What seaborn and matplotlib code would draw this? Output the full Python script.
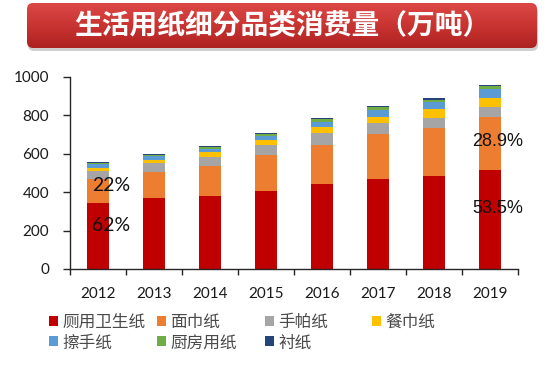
import numpy as np
import pandas as pd
import matplotlib
matplotlib.use("Agg")
import matplotlib.pyplot as plt
from matplotlib.patches import FancyBboxPatch, Patch
from matplotlib.colors import LinearSegmentedColormap
import seaborn as sns

years = ["2012", "2013", "2014", "2015", "2016", "2017", "2018", "2019"]
series_names = ["厕用卫生纸", "面巾纸", "手帕纸", "餐巾纸", "擦手纸", "厨房用纸", "衬纸"]
toilet = [346, 368, 380, 406, 442, 471, 484, 514]
facial = [125, 135, 156, 187, 206, 231, 248, 277]
handkerchief = [37, 47, 48, 52, 61, 56, 55, 52]
napkin = [19, 20, 23, 26, 28, 34, 44, 47]
hand_towel = [18, 19, 19, 24, 31, 38, 40, 49]
kitchen = [7, 5, 7, 8, 12, 12, 10, 12]
liner = [4, 4, 7, 6, 8, 9, 8, 9]
colors = ["#C00000", "#ED7D31", "#A5A5A5", "#FFC000", "#5B9BD5", "#70AD47", "#264478"]
yticks = [0, 200, 400, 600, 800, 1000]
title = "生活用纸细分品类消费量（万吨）"
annotations = [("22%", 0, 437), ("62%", 0, 225), ("28.9%", 7, 662), ("53.5%", 7, 316)]

sns.set_theme(style="white")
plt.rcParams["font.family"] = ["Lato", "Noto Sans CJK SC", "DejaVu Sans"]

W, H = 554, 366
fig = plt.figure(figsize=(W / 100, H / 100), dpi=100)
fig.patch.set_facecolor("white")

# ---- title banner ----
bx0, by0, bx1, by1 = 27, 3, 537, 48
sh = fig.add_axes([(bx0 + 1) / W, 1 - (by1 + 3) / H, (bx1 - bx0) / W, (by1 - by0) / H])
sh.set_axis_off()
sh.add_patch(FancyBboxPatch((0, 0), 1, 1, boxstyle="round,pad=0,rounding_size=0.012",
                            transform=sh.transAxes, facecolor="#cfcfcf", edgecolor="none",
                            mutation_aspect=(bx1 - bx0) / (by1 - by0)))
ban = fig.add_axes([bx0 / W, 1 - by1 / H, (bx1 - bx0) / W, (by1 - by0) / H])
ban.set_axis_off()
grad = np.linspace(0, 1, 64).reshape(-1, 1)
cm = LinearSegmentedColormap.from_list("r", ["#DB4845", "#C93431", "#AE2222"])
im = ban.imshow(grad, aspect="auto", cmap=cm, extent=[0, 1, 0, 1], origin="upper")
clip = FancyBboxPatch((0, 0), 1, 1, boxstyle="round,pad=0,rounding_size=0.012",
                      transform=ban.transAxes, facecolor="none", edgecolor="none",
                      mutation_aspect=(bx1 - bx0) / (by1 - by0))
ban.add_patch(clip)
im.set_clip_path(clip)
ban.set_xlim(0, 1)
ban.set_ylim(0, 1)
ban.text(0.5, 0.5, title, ha="center", va="center", color="white", fontsize=20,
         fontweight="bold", family=["Noto Sans CJK SC", "DejaVu Sans"], transform=ban.transAxes)

# ---- chart ----
ax = fig.add_axes([70 / W, 1 - 269 / H, 448 / W, (269 - 77) / H])
df = pd.DataFrame({"year": years})
stack = [toilet, facial, handkerchief, napkin, hand_towel, kitchen, liner]
cum = np.cumsum(np.array(stack), axis=0)
for i in range(len(stack) - 1, -1, -1):
    df["v"] = cum[i]
    sns.barplot(data=df, x="year", y="v", color=colors[i], saturation=1, width=0.41,
                ax=ax, linewidth=0)

ax.set_ylim(0, 1000)
ax.set_xlim(-0.5, 7.5)
ax.set_yticks(yticks)
ax.set_xlabel("")
ax.set_ylabel("")
for s in ["top", "right"]:
    ax.spines[s].set_visible(False)
for s in ["left", "bottom"]:
    ax.spines[s].set_color("#262626")
    ax.spines[s].set_linewidth(1.0)
ax.set_xticks(np.arange(-0.5, 8, 1), minor=True)
ax.tick_params(axis="x", which="major", length=0, pad=13, labelsize=11, labelcolor="#1a1a1a")
ax.tick_params(axis="x", which="minor", length=4, width=1, color="#262626", direction="out", bottom=True)
ax.tick_params(axis="y", which="major", length=5, width=1, color="#262626", direction="out",
               left=True, pad=10, labelsize=11, labelcolor="#1a1a1a")
ax.grid(False)

for txt, xi, yv in annotations:
    if "." in txt:
        ax.text(xi - 0.32, yv, txt, ha="left", va="center", fontsize=13,
                family="Liberation Sans", color="#111111")
    else:
        ax.text(xi - 0.11, yv, txt, ha="left", va="center", fontsize=14,
                family="Lato", color="#111111")

# ---- legend: four columns ----
col_x = [49, 157, 265, 372]
columns = [[0, 4], [1, 5], [2, 6], [3]]
for cx, idxs in zip(col_x, columns):
    handles = [Patch(facecolor=colors[k], edgecolor="none") for k in idxs]
    labels = [series_names[k] for k in idxs]
    fig.legend(handles, labels, loc="upper left", bbox_to_anchor=(cx / W, 1 - 314 / H),
               ncol=1, frameon=False, handlelength=0.55, handleheight=0.55,
               handletextpad=0.25, labelspacing=0.2, borderpad=0, borderaxespad=0,
               prop={"family": ["Noto Sans CJK SC", "DejaVu Sans"], "size": 12},
               labelcolor="#4a4a4a")

fig.savefig("out.png", dpi=100)
